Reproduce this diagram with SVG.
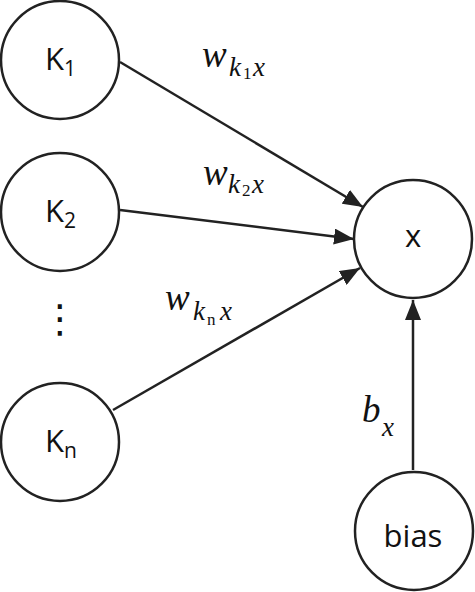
<svg xmlns="http://www.w3.org/2000/svg" width="475" height="592" viewBox="0 0 475 592">
<style>
.node circle{fill:#fff;stroke:#222;stroke-width:2.5}
.lbl{font-family:"Open Sans","Liberation Sans",sans-serif;font-size:31px;fill:#111}
.sub{font-size:21px}
.m{font-family:"Liberation Serif","DejaVu Serif",serif;font-style:italic;font-size:37px;fill:#111}
.s{font-size:27px}
.ss{font-size:17px;font-style:normal}
#edges line{stroke:#222;stroke-width:2.5}
</style>
<defs>
<marker id="ah" viewBox="0 0 20 16" refX="20" refY="8" markerWidth="20" markerHeight="16" markerUnits="userSpaceOnUse" orient="auto">
<path d="M0,0 L20,8 L0,16 Z" fill="#222"/>
</marker>
</defs>
<g id="edges">
<line x1="120" y1="62" x2="363" y2="207" marker-end="url(#ah)"/>
<line x1="120" y1="210" x2="354" y2="239" marker-end="url(#ah)"/>
<line x1="113" y1="410" x2="360" y2="268" marker-end="url(#ah)"/>
<line x1="413" y1="470" x2="413" y2="300" marker-end="url(#ah)"/>
</g>
<g id="edge-labels">
<text class="m" x="202" y="67">w<tspan class="s" x="229" y="76">k</tspan><tspan class="ss" x="243" y="79">1</tspan><tspan class="s" x="253" y="76">x</tspan></text>
<text class="m" x="203" y="185">w<tspan class="s" x="228" y="193">k</tspan><tspan class="ss" x="242" y="196">2</tspan><tspan class="s" x="252" y="193">x</tspan></text>
<text class="m" x="165" y="310">w<tspan class="s" x="193" y="320">k</tspan><tspan class="ss" x="207" y="325">n</tspan><tspan class="s" x="220" y="320">x</tspan></text>
<text class="m" x="362" y="422">b<tspan font-size="27" x="382" y="436">x</tspan></text>
</g>
<g id="K1" class="node"><circle cx="60" cy="60" r="59"/><text class="lbl" x="45" y="70">K<tspan class="sub" dy="6">1</tspan></text></g>
<g id="K2" class="node"><circle cx="60" cy="212" r="59"/><text class="lbl" x="45" y="222">K<tspan class="sub" dy="6">2</tspan></text></g>
<g id="dots"><text x="60" y="332" font-family="DejaVu Sans,sans-serif" font-size="39" text-anchor="middle" fill="#111">⋮</text></g>
<g id="Kn" class="node"><circle cx="60" cy="442" r="59"/><text class="lbl" x="45" y="452">K<tspan class="sub" dy="6">n</tspan></text></g>
<g id="X" class="node"><circle cx="413" cy="239" r="59"/><text class="lbl" x="413" y="247" text-anchor="middle">x</text></g>
<g id="bias" class="node"><circle cx="414" cy="531" r="59"/><text class="lbl" x="413" y="547" text-anchor="middle">bias</text></g>
</svg>
